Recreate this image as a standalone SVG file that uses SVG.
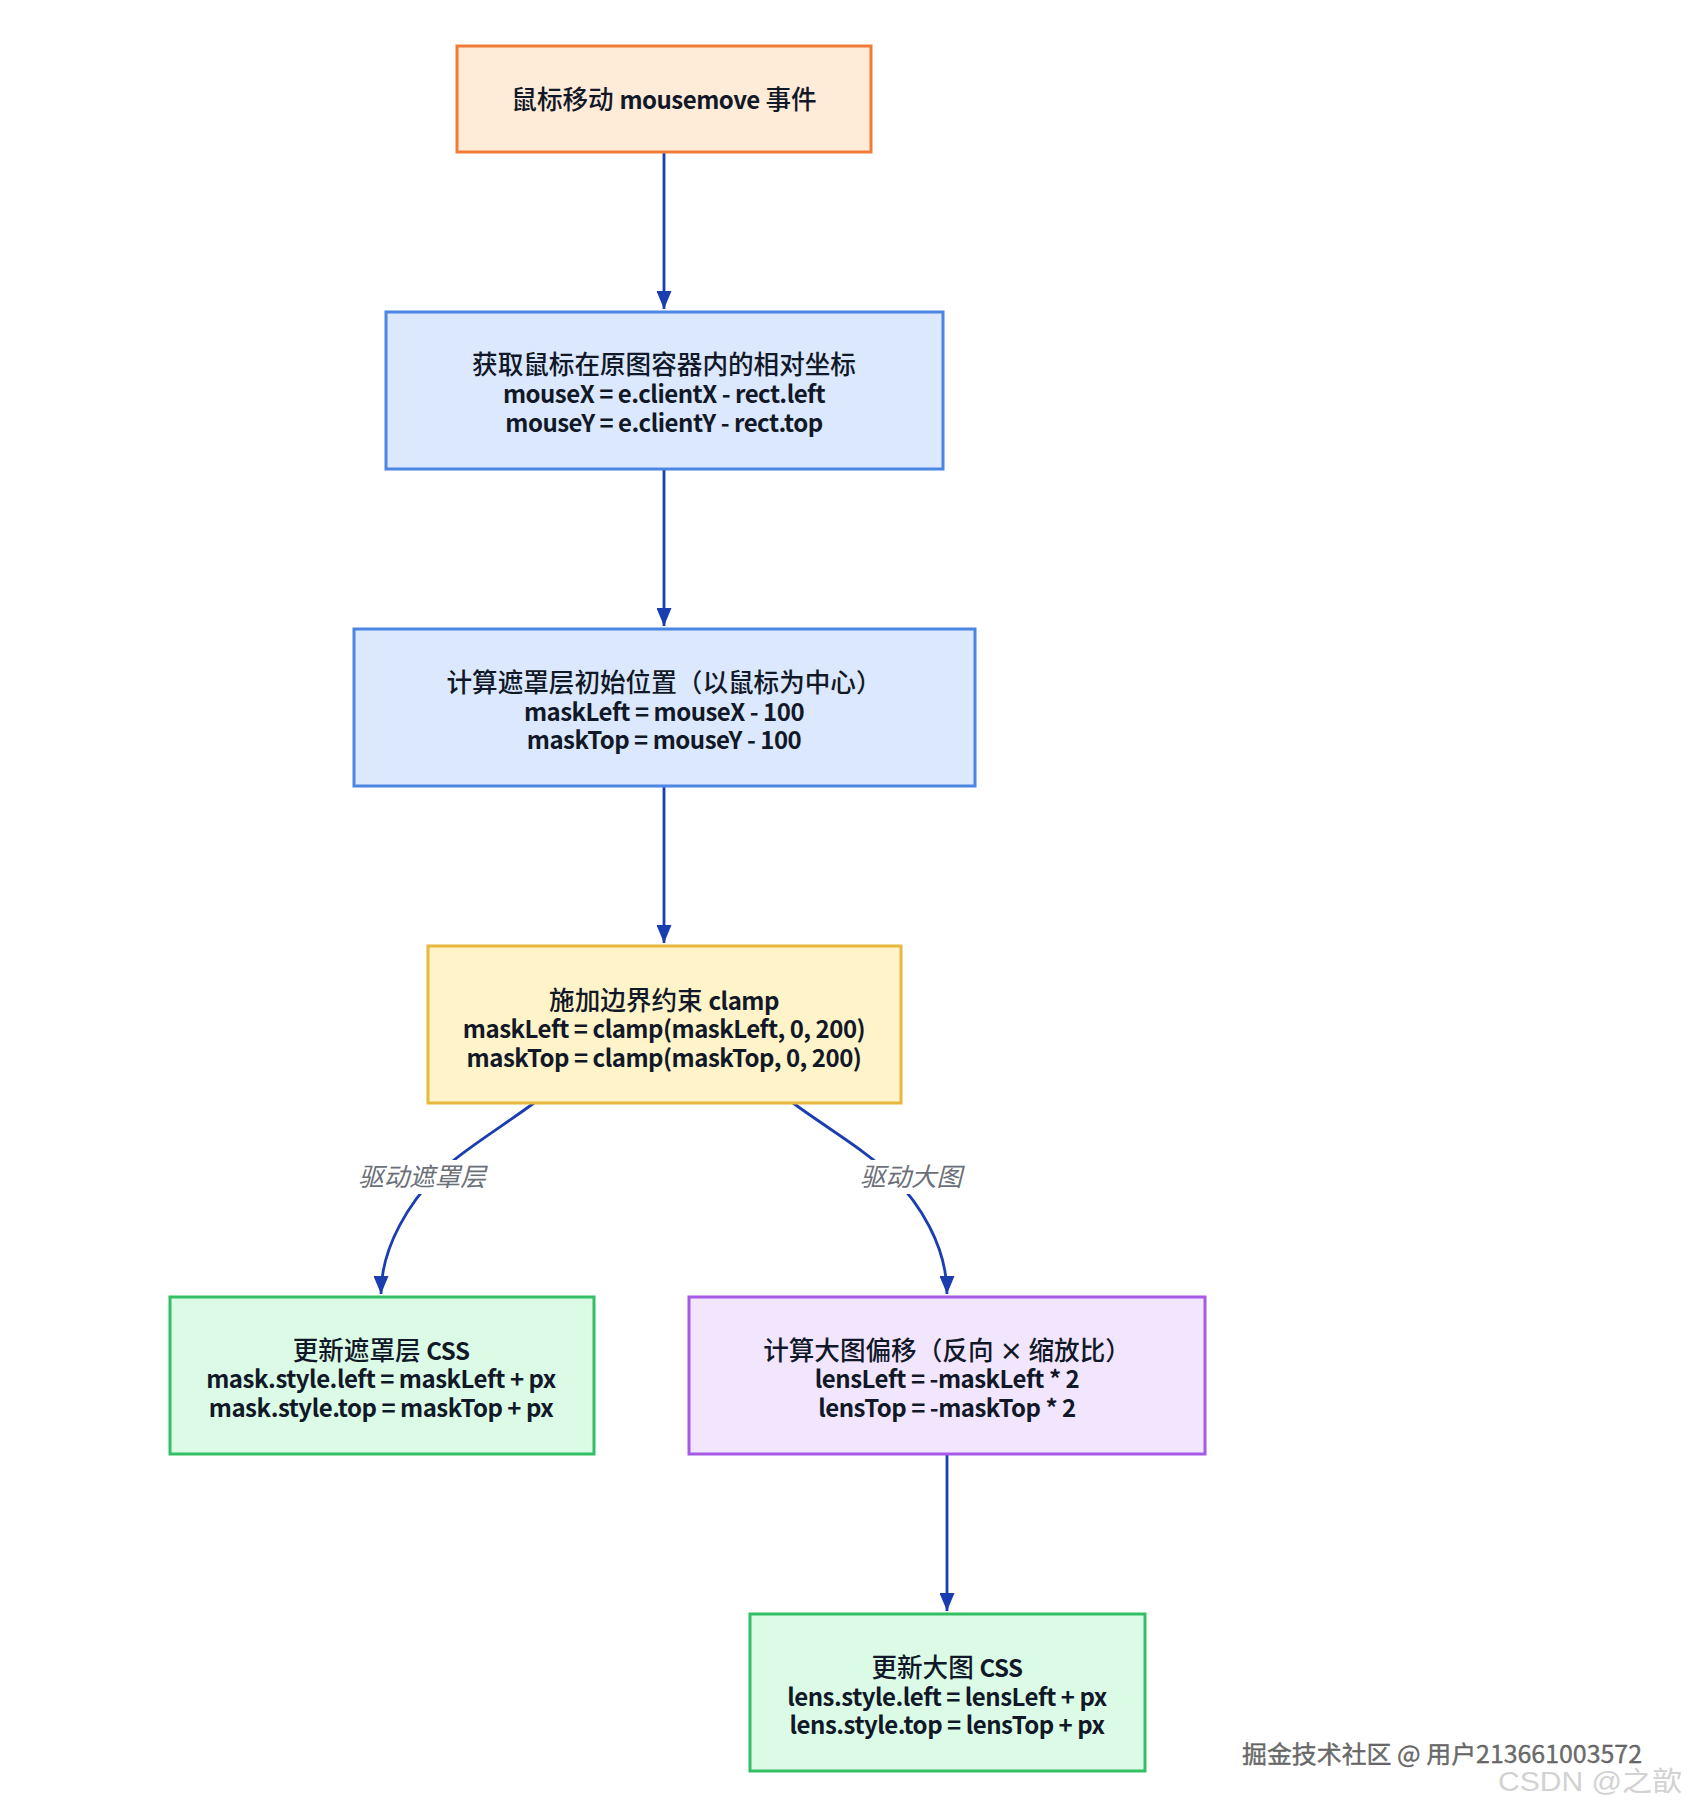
<svg xmlns="http://www.w3.org/2000/svg" width="1686" height="1810" viewBox="0 0 1686 1810">
<defs>
<style>
.box{stroke-width:3}
.orange{fill:#feebd8;stroke:#ef7d38}
.blue{fill:#dbe8fd;stroke:#4a86e2}
.yellow{fill:#fff3c9;stroke:#e8b73e}
.green{fill:#dbfbe6;stroke:#33c065}
.purple{fill:#f1e6fe;stroke:#a65ae6}
.t{font-family:"Noto Sans CJK SC","Noto Sans",sans-serif;font-size:25.6px;fill:#111827;text-anchor:middle}
.c{font-weight:500}
.b{font-weight:700;font-size:24px;letter-spacing:-0.5px}
.edge{fill:none;stroke:#1a3db0;stroke-width:2.8}
.lbl{font-family:"Noto Sans CJK SC","Noto Sans",sans-serif;font-size:25.5px;font-style:italic;fill:#6b6f78;text-anchor:middle}
</style>
<marker id="arr" viewBox="0 0 18 15" refX="18" refY="7.5" markerWidth="18" markerHeight="15" markerUnits="userSpaceOnUse" orient="auto">
<path d="M0,0 L18,7.5 L0,15 z" fill="#1a3db0"/>
</marker>
</defs>
<rect width="1686" height="1810" fill="#ffffff"/>
<g id="connectors">
<path class="edge" d="M664,152 L664,309" marker-end="url(#arr)"/>
<path class="edge" d="M664,469 L664,626" marker-end="url(#arr)"/>
<path class="edge" d="M664,786 L664,943" marker-end="url(#arr)"/>
<path class="edge" d="M534,1103 C500,1128 460,1152 436,1176 S381,1245 381,1294" marker-end="url(#arr)"/>
<path class="edge" d="M793,1103 C827,1128 868,1152 893,1177 S947,1245 947,1294" marker-end="url(#arr)"/>
<path class="edge" d="M947,1454 L947,1611" marker-end="url(#arr)"/>
<rect x="354" y="1160" width="136" height="34" fill="#ffffff"/>
<text class="lbl" x="422" y="1186">驱动遮罩层</text>
<rect x="855" y="1160" width="112" height="34" fill="#ffffff"/>
<text class="lbl" x="911" y="1186">驱动大图</text>
</g>
<g id="n1">
<rect class="box orange" x="457" y="46" width="414" height="106"/>
<text class="t" x="664" y="109"><tspan class="c">鼠标移动 </tspan><tspan class="b">mousemove</tspan><tspan class="c"> 事件</tspan></text>
</g>
<g id="n2">
<rect class="box blue" x="386" y="312" width="557" height="157"/>
<text class="t c" x="664" y="374">获取鼠标在原图容器内的相对坐标</text>
<text class="t b" x="664" y="403">mouseX = e.clientX - rect.left</text>
<text class="t b" x="664" y="432">mouseY = e.clientY - rect.top</text>
</g>
<g id="n3">
<rect class="box blue" x="354" y="629" width="621" height="157"/>
<text class="t c" x="664" y="692">计算遮罩层初始位置（以鼠标为中心）</text>
<text class="t b" x="664" y="721">maskLeft = mouseX - 100</text>
<text class="t b" x="664" y="749">maskTop = mouseY - 100</text>
</g>
<g id="n4">
<rect class="box yellow" x="428" y="946" width="473" height="157"/>
<text class="t" x="664" y="1010"><tspan class="c">施加边界约束 </tspan><tspan class="b">clamp</tspan></text>
<text class="t b" x="664" y="1038">maskLeft = clamp(maskLeft, 0, 200)</text>
<text class="t b" x="664" y="1067">maskTop = clamp(maskTop, 0, 200)</text>
</g>
<g id="n5">
<rect class="box green" x="170" y="1297" width="424" height="157"/>
<text class="t" x="381" y="1360"><tspan class="c">更新遮罩层 </tspan><tspan class="b">CSS</tspan></text>
<text class="t b" x="381" y="1388">mask.style.left = maskLeft + px</text>
<text class="t b" x="381" y="1417">mask.style.top = maskTop + px</text>
</g>
<g id="n6">
<rect class="box purple" x="689" y="1297" width="516" height="157"/>
<text class="t c" x="947" y="1360">计算大图偏移（反向 <tspan class="b">×</tspan> 缩放比）</text>
<text class="t b" x="947" y="1388">lensLeft = -maskLeft * 2</text>
<text class="t b" x="947" y="1417">lensTop = -maskTop * 2</text>
</g>
<g id="n7">
<rect class="box green" x="750" y="1614" width="395" height="157"/>
<text class="t" x="947" y="1677"><tspan class="c">更新大图 </tspan><tspan class="b">CSS</tspan></text>
<text class="t b" x="947" y="1706">lens.style.left = lensLeft + px</text>
<text class="t b" x="947" y="1734">lens.style.top = lensTop + px</text>
</g>
<g id="watermark">
<text x="1242" y="1763" textLength="400" lengthAdjust="spacingAndGlyphs" font-family="'Noto Sans CJK SC','Liberation Sans',sans-serif" font-size="24" fill="#6e6e6e" stroke="#4a4a4a" stroke-width="0.3">掘金技术社区 @ 用户213661003572</text>
<text x="1498" y="1791" textLength="184" lengthAdjust="spacingAndGlyphs" font-family="'Liberation Sans','Noto Sans CJK SC',sans-serif" font-size="27" fill="#d2d2d2">CSDN @之歆</text>
</g>
</svg>
